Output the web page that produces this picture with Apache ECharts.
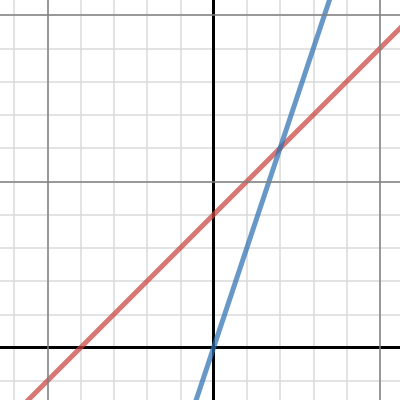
<!DOCTYPE html>
<html>
<head>
<meta charset="utf-8">
<script src="https://cdn.jsdelivr.net/npm/echarts@6/dist/echarts.min.js"></script>
<style>
  html, body { margin: 0; padding: 0; background: #fff; overflow: hidden; width: 400px; height: 400px; }
  #chart { position: absolute; }
</style>
</head>
<body>
<div id="chart"></div>
<script>
// 坐标范围（比画布略大，网格按 1 个单位画细线）
const xRange = [-7, 6];
const yRange = [-2, 11];
const majorX = [-5, 5];
const majorY = [5, 10];

// 两条直线的端点
const redLine = [[-7, -3], [6, 10]];
const blueLine = [[-1, -3], [4, 12]];

const unit = 33.2;      // 每个单位的像素
const originX = 213;    // 原点在画布上的位置
const originY = 347;

// 图表容器比窗口大，用负偏移让原点落在正确位置
const dom = document.getElementById('chart');
dom.style.left = (originX + xRange[0] * unit) + 'px';
dom.style.top = (originY - yRange[1] * unit) + 'px';
dom.style.width = ((xRange[1] - xRange[0]) * unit) + 'px';
dom.style.height = ((yRange[1] - yRange[0]) * unit) + 'px';

const chart = echarts.init(dom, null, { renderer: 'canvas' });

const option = {
  backgroundColor: '#fff',
  animation: false,
  grid: { left: 0, right: 0, top: 0, bottom: 0 },
  xAxis: {
    type: 'value',
    min: xRange[0],
    max: xRange[1],
    interval: 1,
    axisLabel: { show: false },
    axisTick: { show: false },
    axisLine: { onZero: true, lineStyle: { color: '#000', width: 3 } },
    splitLine: { show: true, lineStyle: { color: '#dadada', width: 1.5 } }
  },
  yAxis: {
    type: 'value',
    min: yRange[0],
    max: yRange[1],
    interval: 1,
    axisLabel: { show: false },
    axisTick: { show: false },
    axisLine: { onZero: true, lineStyle: { color: '#000', width: 3 } },
    splitLine: { show: true, lineStyle: { color: '#dadada', width: 1.5 } }
  },
  series: [
    {
      // 主网格线
      type: 'line',
      data: [],
      silent: true,
      z: 1,
      markLine: {
        symbol: 'none',
        silent: true,
        label: { show: false },
        lineStyle: { color: '#808080', width: 1.5, type: 'solid', opacity: 1 },
        data: majorX.map(v => ({ xAxis: v })).concat(majorY.map(v => ({ yAxis: v })))
      }
    },
    {
      type: 'line',
      data: redLine,
      symbol: 'none',
      z: 3,
      lineStyle: { color: '#c74440', width: 5, opacity: 0.72 }
    },
    {
      type: 'line',
      data: blueLine,
      symbol: 'none',
      z: 4,
      lineStyle: { color: '#2d70b3', width: 5, opacity: 0.72 }
    }
  ]
};

chart.setOption(option);
</script>
</body>
</html>
